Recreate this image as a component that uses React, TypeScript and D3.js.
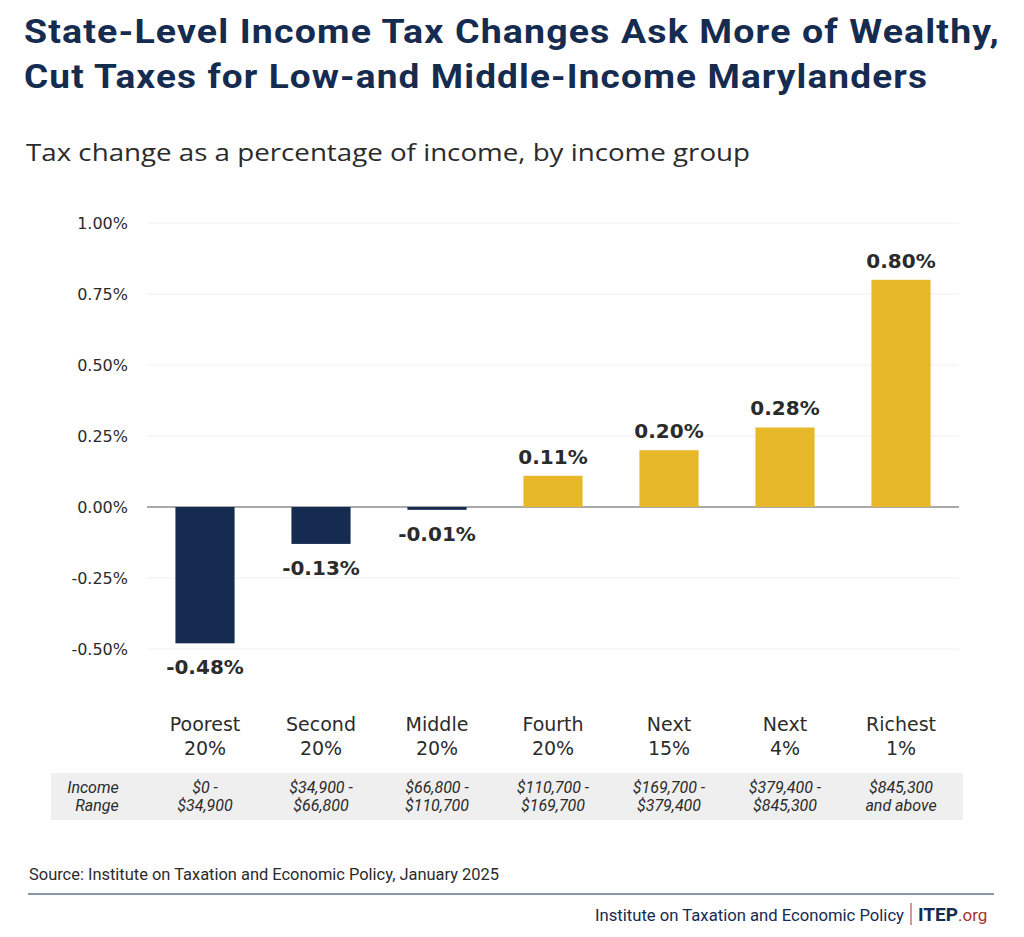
import React from "react";
import * as d3 from "d3";

const groups = ["Poorest 20%", "Second 20%", "Middle 20%", "Fourth 20%", "Next 15%", "Next 4%", "Richest 1%"];
const taxChange = [-0.48, -0.13, -0.01, 0.11, 0.2, 0.28, 0.8];
const incomeLow = ["$0 -", "$34,900 -", "$66,800 -", "$110,700 -", "$169,700 -", "$379,400 -", "$845,300"];
const incomeHigh = ["$34,900", "$66,800", "$110,700", "$169,700", "$379,400", "$845,300", "and above"];
const yTicks = [-0.5, -0.25, 0, 0.25, 0.5, 0.75, 1.0];

const W = 1024;
const H = 937;
const NAVY = "#152b50";
const GOLD = "#e6b82a";
const TXT = "#2b2b2b";
const WIDE = "'DejaVu Sans', 'Open Sans', sans-serif";
const FONT = "'Open Sans', 'DejaVu Sans', sans-serif";
const COND = "Roboto, 'Liberation Sans Narrow', sans-serif";

export default function App() {
  const x = d3.scaleBand<string>().domain(groups).range([147, 959]).paddingInner(0.49).paddingOuter(0.245);
  const y = d3.scaleLinear().domain([-0.5, 1.0]).range([649, 223]);
  const fmt = (v: number) => v.toFixed(2) + "%";

  return (
    <svg width={W} height={H} style={{ display: "block", position: "absolute", left: 0, top: 0 }}>
      <rect width={W} height={H} fill="#fff" />
      <text x={24} y={43} fontFamily={COND} fontWeight={700} fontSize={33} fill={NAVY} textLength={976} lengthAdjust="spacingAndGlyphs" letterSpacing={1}>
        State-Level Income Tax Changes Ask More of Wealthy,
      </text>
      <text x={24} y={88} fontFamily={COND} fontWeight={700} fontSize={33} fill={NAVY} textLength={904} lengthAdjust="spacingAndGlyphs" letterSpacing={1}>
        Cut Taxes for Low-and Middle-Income Marylanders
      </text>
      <text x={26} y={161} fontFamily={FONT} fontSize={23} fill={TXT} textLength={724} lengthAdjust="spacingAndGlyphs">
        Tax change as a percentage of income, by income group
      </text>

      {yTicks.map((t) => (
        <g key={t}>
          <line x1={147} x2={959} y1={y(t)} y2={y(t)} stroke={t === 0 ? "#555" : "#f0f0f0"} strokeWidth={1} />
          <text x={128} y={y(t)} dy="0.36em" textAnchor="end" fontFamily={WIDE} fontSize={16} fill={TXT}>
            {fmt(t)}
          </text>
        </g>
      ))}

      {groups.map((g, i) => {
        const v = taxChange[i];
        const bx = x(g)!;
        const cx = bx + x.bandwidth() / 2;
        const top = v >= 0 ? y(v) : y(0);
        const h = Math.abs(y(v) - y(0));
        const [l1, l2] = g.split(" ");
        return (
          <g key={g}>
            <rect x={bx} y={top} width={x.bandwidth()} height={Math.max(h, 1.5)} fill={v >= 0 ? GOLD : NAVY} />
            <text
              x={cx}
              y={v >= 0 ? y(v) - 12 : y(v) + 31}
              textAnchor="middle"
              fontFamily={WIDE}
              fontWeight={700}
              fontSize={20}
              fill={TXT}
            >
              {fmt(v)}
            </text>
            <text x={cx} y={731} textAnchor="middle" fontFamily={WIDE} fontSize={19} fill={TXT}>
              {l1}
            </text>
            <text x={cx} y={755} textAnchor="middle" fontFamily={WIDE} fontSize={19} fill={TXT}>
              {l2}
            </text>
          </g>
        );
      })}

      <rect x={51} y={773} width={912} height={47} fill="#efefef" />
      <text x={93} y={793} textAnchor="middle" fontFamily={COND} fontStyle="italic" fontSize={16} fill={TXT}>Income</text>
      <text x={97} y={811} textAnchor="middle" fontFamily={COND} fontStyle="italic" fontSize={16} fill={TXT}>Range</text>
      {groups.map((g, i) => {
        const cx = x(g)! + x.bandwidth() / 2;
        return (
          <g key={"r" + g}>
            <text x={cx} y={793} textAnchor="middle" fontFamily={COND} fontStyle="italic" fontSize={16} fill={TXT}>{incomeLow[i]}</text>
            <text x={cx} y={811} textAnchor="middle" fontFamily={COND} fontStyle="italic" fontSize={16} fill={TXT}>{incomeHigh[i]}</text>
          </g>
        );
      })}

      <text x={29} y={880} fontFamily={COND} fontSize={16} fill={TXT} textLength={470} lengthAdjust="spacingAndGlyphs">
        Source: Institute on Taxation and Economic Policy, January 2025
      </text>
      <line x1={28} x2={994} y1={894} y2={894} stroke="#5f7590" strokeWidth={1.5} />
      <text x={904} y={921} textAnchor="end" fontFamily={COND} fontSize={17} fill={NAVY} textLength={309} lengthAdjust="spacingAndGlyphs">
        Institute on Taxation and Economic Policy
      </text>
      <line x1={911} x2={911} y1={903} y2={925} stroke="#a8332f" strokeWidth={1} />
      <text x={918} y={921} fontFamily={COND} fontSize={19} fill={NAVY} fontWeight={700}>
        ITEP<tspan fontWeight={400} fontSize={17} fill="#a8332f">.org</tspan>
      </text>
    </svg>
  );
}
